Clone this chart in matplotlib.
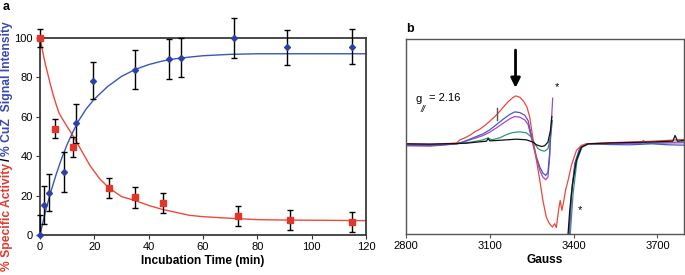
import numpy as np
import matplotlib.pyplot as plt

plt.rcParams['font.family'] = ['Liberation Sans', 'DejaVu Sans']

# ---- panel a data ----
cuz_time = [0, 1.6, 3.4, 8.7, 13.4, 19.4, 35.1, 47.5, 52.0, 71.3, 91.0, 115.0]
cuz_signal = [0, 15.2, 21.5, 32.0, 56.6, 78.2, 84.0, 89.4, 90.0, 100.0, 95.2, 95.6]
cuz_err_lo = [0, 9.8, 9.5, 10, 9.8, 9.4, 9.8, 10, 10, 10, 8.8, 8.8]
cuz_err_hi = [10, 9.8, 9.5, 10, 9.8, 9.4, 9.8, 10, 10, 10, 8.8, 8.8]

act_time = [0, 5.4, 12.0, 25.3, 35.1, 45.3, 72.9, 92.1, 114.8]
act_value = [100, 54.0, 44.8, 24.0, 19.1, 16.3, 9.6, 7.6, 6.6]
act_err = [4.8, 5.0, 5.0, 5.0, 5.2, 5.0, 5.0, 5.3, 5.0]

cuz_fit_t = [0, 2, 4, 6, 8, 10, 12, 14, 17, 20, 25, 30, 35, 40, 45, 50, 55, 60, 70, 80, 100, 120]
cuz_fit_y = [0, 12, 22, 31, 39, 46, 52, 57.5, 64, 69, 75.5, 80.5, 84, 86.5, 88.3, 89.5, 90.3, 91, 91.7, 92, 92, 92]

act_fit_t = [0, 1, 2, 3, 4, 5, 6, 7, 8, 10, 12.4, 15, 18.5, 22, 25.3, 30, 35, 40, 45, 50, 55, 60, 70, 80, 90, 100, 120]
act_fit_y = [100, 93, 86.5, 81, 75.5, 70.5, 66, 62, 59.5, 55, 49.8, 43.5, 35, 28.5, 24, 19.5, 17.5, 15, 13, 11.5, 10, 9.3, 8.5, 7.8, 7.6, 7.5, 7.3]

# ---- panel b data (Gauss, arbitrary derivative intensity) ----
red_g = [2800, 2886, 2945, 2981, 2993, 3011, 3029, 3046, 3064, 3082, 3100, 3118, 3136, 3150, 3165,
         3181, 3193, 3207, 3221, 3233, 3243, 3250, 3257, 3267, 3279, 3290, 3302, 3312, 3324, 3332,
         3338, 3346, 3352, 3358, 3364, 3371, 3380, 3392, 3410, 3427, 3445, 3517, 3588, 3660, 3731, 3793]
red_v = [0, -1, 1, 2, 12, 18, 26, 36, 44, 55, 68, 82, 98, 112, 126,
         138, 144, 140, 128, 110, 80, 40, 0, -50, -110, -170, -220, -238, -250, -240,
         -252, -200, -170, -200, -175, -140, -110, -65, -20, -5, 0, 3, 5, 7, 10, 13]

blue_g = [2800, 2886, 2945, 2981, 3005, 3029, 3052, 3076, 3100, 3124, 3148, 3171, 3189, 3207, 3225,
          3237, 3245, 3255, 3267, 3279, 3290, 3300, 3308, 3314, 3318,
          np.nan, 3383, 3392, 3404, 3421, 3445, 3520, 3600, 3680, 3740, 3793]
blue_v = [-4, -5, -2, 0, 6, 14, 22, 30, 42, 58, 74, 88, 96, 94, 86,
          70, 40, 5, -40, -70, -88, -95, -85, -30, 40,
          np.nan, -271, -150, -60, -15, 0, -2, -3, 0, -3, -4]

purple_g = [2800, 2886, 2945, 2981, 3005, 3029, 3052, 3076, 3100, 3124, 3148, 3171, 3189, 3207, 3225,
            3237, 3245, 3255, 3267, 3279, 3290, 3300, 3308, 3314, 3320, 3325,
            np.nan, 3385, 3394, 3406, 3423, 3447, 3550, 3650, 3793]
purple_v = [-6, -7, -3, 0, 5, 12, 18, 25, 35, 48, 62, 75, 82, 80, 72,
            58, 30, -5, -45, -80, -100, -108, -100, -40, 60, 137,
            np.nan, -271, -140, -55, -12, 0, 1, 2, 3]

green_g = [2800, 2886, 2981, 3017, 3052, 3076, 3094, 3106, 3136, 3160, 3183, 3207, 3231, 3249, 3261,
           3273, 3285, 3296, 3308, 3317, 3324,
           np.nan, 3388, 3398, 3412, 3430, 3454, 3550, 3640, 3650, 3660, 3740, 3793]
green_v = [-2, -3, 0, 3, 8, 12, 18, 12, 18, 28, 34, 36, 33, 20, 0,
           -15, -20, -22, -15, 20, 70,
           np.nan, -271, -150, -50, -10, 0, 1, 2, 10, 2, 4, 6]

black_g = [2800, 2886, 2981, 3017, 3040, 3064, 3088, 3094, 3100, 3124, 3160, 3195, 3231, 3255, 3267,
           3285, 3296, 3308, 3317, 3322,
           np.nan, 3380, 3386, 3396, 3410, 3428, 3452, 3540, 3660, 3755, 3763, 3772, 3793]
black_v = [0, -1, 1, 2, 4, 6, 8, 16, 9, 10, 12, 14, 12, 5, -3,
           -8, -6, 5, 40, 82,
           np.nan, -271, -200, -120, -50, -10, 0, 3, 5, 8, 25, 8, 10]

W, H = 685, 275
fig = plt.figure(figsize=(W / 100, H / 100), dpi=100)

# ---------------- panel a ----------------
ax = fig.add_axes([40 / W, 1 - 235 / H, 326 / W, 197 / H])
ax.plot(act_fit_t, act_fit_y, color='#ee4a3c', lw=1.0, zorder=2)
ax.plot(cuz_fit_t, cuz_fit_y, color='#3d55b5', lw=1.0, zorder=2)
eb1 = ax.errorbar(cuz_time, cuz_signal, yerr=[cuz_err_lo, cuz_err_hi], fmt='none', ecolor='black',
                  elinewidth=1.0, capsize=2.2, capthick=1.0, zorder=3)
eb2 = ax.errorbar(act_time, act_value, yerr=act_err, fmt='none', ecolor='black',
                  elinewidth=1.0, capsize=2.2, capthick=1.0, zorder=3)
for eb in (eb1, eb2):
    for art in eb.get_children():
        art.set_clip_on(False)
ax.plot(cuz_time, cuz_signal, 'D', color='#2e3fa6', ms=3.0, clip_on=False, zorder=4)
ax.plot(act_time, act_value, 's', color='#e0362c', ms=4.2, clip_on=False, zorder=4)

ax.set_xlim(0, 120)
ax.set_ylim(0, 100)
ax.set_xticks([0, 20, 40, 60, 80, 100, 120])
ax.set_yticks([0, 20, 40, 60, 80, 100])
ax.tick_params(labelsize=8, length=3, width=0.8, color='#333333', pad=2)
for s in ax.spines.values():
    s.set_color('#3a3a3a')
    s.set_linewidth(1.3)
ax.set_xlabel("Incubation Time (min)", fontsize=8.6, fontweight='bold', labelpad=2)

# ---------------- panel b ----------------
bx = fig.add_axes([406 / W, 1 - 234 / H, 278 / W, 195 / H])
bx.plot(green_g, green_v, color='#2e9a6e', lw=0.9)
bx.plot(purple_g, purple_v, color='#a646cc', lw=0.9)
bx.plot(blue_g, blue_v, color='#4a57c0', lw=0.9)
bx.plot(red_g, red_v, color='#e8483c', lw=0.9)
bx.plot(black_g, black_v, color='#111111', lw=0.9)
bx.set_xlim(2800, 3795)
bx.set_ylim(-271, 315)
bx.set_xticks([2800, 3100, 3400, 3700])
bx.set_yticks([])
bx.tick_params(labelsize=8, length=3, width=0.8, color='#555555', pad=2)
for s in bx.spines.values():
    s.set_color('#555555')
    s.set_linewidth(1.0)
bx.set_xlabel("Gauss", fontsize=8.6, fontweight='bold', labelpad=2)

bx.annotate("", xy=(3192, 160), xytext=(3192, 290),
            arrowprops=dict(arrowstyle='-|>', lw=2.0, color='black', mutation_scale=14))
bx.plot([3124, 3124], [72, 108], color='#555555', lw=1.0)
bx.text(2835, 135, "g", fontsize=8, va='center', ha='left')
bx.text(2852, 104, "//", fontsize=6.5, style='italic', va='center', ha='left')
bx.text(2882, 138, "= 2.16", fontsize=8, va='center', ha='left')
bx.text(3342, 172, "*", fontsize=8, ha='center', va='center')
bx.text(3421, -200, "*", fontsize=8, ha='center', va='center')

# panel letters
fig.text(3 / W, 1 - 1 / H, "a", fontsize=9, fontweight='bold', ha='left', va='top')
fig.text(406 / W, 1 - 23 / H, "b", fontsize=9, fontweight='bold', ha='left', va='top')

# multicolour y label for panel a
renderer = fig.canvas.get_renderer()
x_lab = 7 / W
t1 = fig.text(x_lab, 1 - 271 / H, "% Specific Activity", color='#e03a30', rotation=90,
              ha='center', va='bottom', fontsize=8.7, fontweight='bold')
y_top = t1.get_window_extent(renderer).y1
t2 = fig.text(x_lab, (y_top + 2) / H, "/", color='black', rotation=90,
              ha='center', va='bottom', fontsize=8.7, fontweight='bold')
y_top = t2.get_window_extent(renderer).y1
fig.text(x_lab, (y_top + 2) / H, "% CuZ  Signal Intensity", color='#3a48b0', rotation=90,
         ha='center', va='bottom', fontsize=8.7, fontweight='bold')

fig.savefig("out.png", dpi=100)
